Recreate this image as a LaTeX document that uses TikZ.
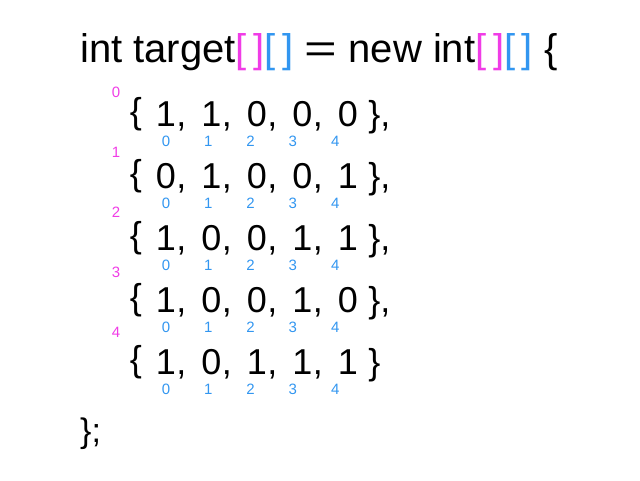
\documentclass[tikz,border=0pt]{standalone}
\usepackage{fontspec}
\setmainfont{Liberation Sans}
\definecolor{mag}{RGB}{240,60,230}
\definecolor{blu}{RGB}{50,150,240}
\begin{document}
\begin{tikzpicture}[x=1pt,y=-1pt,
  big/.style={font=\fontsize{36}{40}\selectfont,inner sep=0pt},
  idx/.style={font=\fontsize{15}{16}\selectfont,text=blu,inner sep=0pt},
  ridx/.style={font=\fontsize{15}{16}\selectfont,text=mag,inner sep=0pt}]
\useasboundingbox (0,0) rectangle (640,480);
\node[anchor=base west,inner sep=0pt,font=\fontsize{40}{44}\selectfont] (title) at (80,62)
  {int target\textcolor{mag}{[\,]}\textcolor{blu}{[\,]}\ \scalebox{1.4}[1]{=}\ new int\textcolor{mag}{[\,]}\textcolor{blu}{[\,]}\ \{};
\foreach \r/\vals/\e in {0/{1,1,0,0,0}/{,},1/{0,1,0,0,1}/{,},2/{1,0,0,1,1}/{,},3/{1,0,0,1,0}/{,},4/{1,0,1,1,1}/{}} {
  \pgfmathsetmacro\yy{114+62*\r}
  \node[ridx] (r\r) at (116,{92+60*\r}) {\r};
  \node[big] (ob\r) at (136,\yy) {\{};
  \foreach \v [count=\c from 0] in \vals {
    \node[big] (d\r\c) at ({166+45.5*\c},\yy) {\v};
    \node[idx] (i\r\c) at ({166+42.3*\c},{\yy+27}) {\c};
  }
  \foreach \c in {0,...,3} { \node[big,anchor=base west] (cm\r\c) at (d\r\c.base east) {,}; }
  \node[big,anchor=base west] (cb\r) at ([xshift=10pt]d\r4.base east) {\}\e};
}
\node[anchor=base west,inner sep=0pt,font=\fontsize{34}{38}\selectfont] (end) at (80,442) {\};};
\end{tikzpicture}
\end{document}
